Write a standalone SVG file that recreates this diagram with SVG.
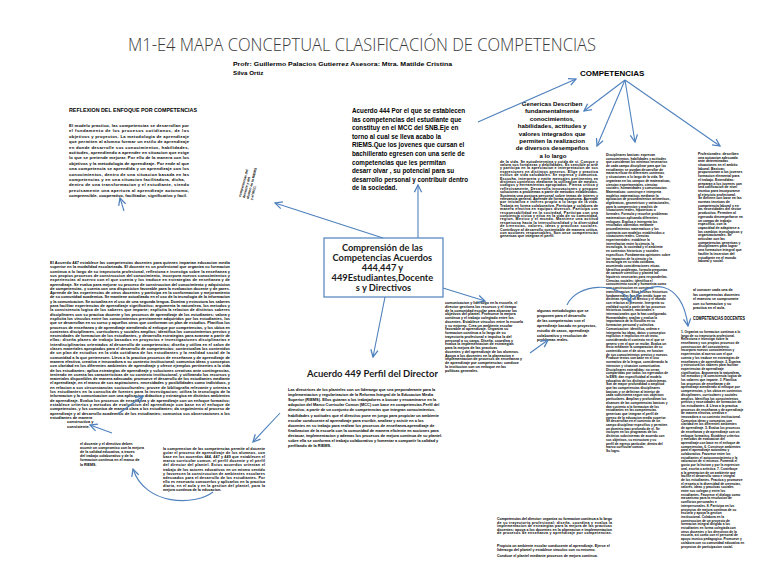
<svg xmlns="http://www.w3.org/2000/svg" width="768" height="576" viewBox="0 0 768 576">
<defs>
<style>
.b{font-family:"Liberation Sans",Arial,sans-serif;font-weight:bold;fill:#000}
.cal{font-family:Lato,"Liberation Sans",Arial,sans-serif;fill:#1a1a1a}
.conn{fill:none;stroke:#4f81bd;stroke-width:1.1;marker-end:url(#ah)}
</style>
<marker id="ah" viewBox="0 0 10 10" refX="9" refY="5" markerWidth="9" markerHeight="9" markerUnits="userSpaceOnUse" orient="auto"><path d="M1,1 L9,5 L1,9" fill="none" stroke="#4f81bd" stroke-width="1.4"/></marker>
</defs>
<rect width="768" height="576" fill="#fff"/>

<g id="title">
<text x="128" y="51" font-family="'Open Sans','Liberation Sans',sans-serif" font-weight="300" font-size="18" fill="#3a3a3a" textLength="468" lengthAdjust="spacingAndGlyphs">M1-E4 MAPA CONCEPTUAL CLASIFICACIÓN DE COMPETENCIAS</text>
<text class="b" font-size="6.2" x="233" y="66" textLength="219" lengthAdjust="spacingAndGlyphs">Profr: Guillermo Palacios Gutierrez Asesora: Mtra. Matilde Cristina</text>
<text class="b" font-size="6.2" x="233" y="75">Silva Ortiz</text>
</g>

<g id="competencias">
<text class="b" font-size="8" x="580" y="76">COMPETENCIAS</text>
</g>

<g id="acuerdo444">
<text class="b" font-size="6.3">
<tspan x="352" y="113">Acuerdo 444 Por el que se establecen</tspan>
<tspan x="352" y="121.6">las competencias del estudiante que</tspan>
<tspan x="352" y="130.2">constituy en el MCC del SNB.Eje en</tspan>
<tspan x="352" y="138.8">torno al cual se lleva acabo la</tspan>
<tspan x="352" y="147.4">RIEMS.Que los jovenes que cursan el</tspan>
<tspan x="352" y="156">bachillerato egresen con una serie de</tspan>
<tspan x="352" y="164.6">competencias que les permitan</tspan>
<tspan x="352" y="173.2">desarr olvar , su potencial para su</tspan>
<tspan x="352" y="181.8">desarrollo personal y  contribuir dentro</tspan>
<tspan x="352" y="190.4">de la sociedad.</tspan>
</text>
</g>

<g id="genericas">
<text class="b" font-size="6.1" text-anchor="middle">
<tspan x="553" y="106">Genericas Describen</tspan>
<tspan x="553" y="113.4">fundamentalmente</tspan>
<tspan x="553" y="120.8">conocimientos,</tspan>
<tspan x="553" y="128.2">habilidades, actitudes y</tspan>
<tspan x="553" y="135.6">valores integrados que</tspan>
<tspan x="553" y="143">permiten la realizacion</tspan>
<tspan x="553" y="150.4">de diversos desempeños</tspan>
<tspan x="553" y="157.6">a lo largo</tspan>
</text>
</g>

<g id="col-genericas">
<text class="b" font-size="3.6">
<tspan x="500" y="162.5" textLength="98">de la vida. Se autodetermina y cuida de si. Conoce y</tspan>
<tspan x="500" y="165.9" textLength="98">valora sus fortalezas y debilidades. Es sensible al arte</tspan>
<tspan x="500" y="169.3" textLength="98">y participa en la apreciacion e interpretacion de sus</tspan>
<tspan x="500" y="172.7" textLength="98">expresiones en distintos generos. Elige y practica</tspan>
<tspan x="500" y="176.1" textLength="98">estilos de vida saludables. Se expresa y comunica.</tspan>
<tspan x="500" y="179.5" textLength="98">Escucha, interpreta y emite mensajes pertinentes en</tspan>
<tspan x="500" y="182.9" textLength="98">distintos contextos mediante la utilizacion de medios,</tspan>
<tspan x="500" y="186.3" textLength="98">codigos y herramientas apropiados. Piensa critica y</tspan>
<tspan x="500" y="189.7" textLength="98">reflexivamente. Desarrolla innovaciones y propone</tspan>
<tspan x="500" y="193.1" textLength="98">soluciones a problemas a partir de metodos establecidos.</tspan>
<tspan x="500" y="196.5" textLength="98">Sustenta una postura personal sobre temas de interes y</tspan>
<tspan x="500" y="199.9" textLength="98">relevancia general. Aprende de forma autonoma. Aprende</tspan>
<tspan x="500" y="203.3" textLength="98">por iniciativa e interes propio a lo largo de la vida.</tspan>
<tspan x="500" y="206.7" textLength="98">Trabaja en forma colaborativa. Participa y colabora de</tspan>
<tspan x="500" y="210.1" textLength="98">manera efectiva en equipos diversos. Participa con</tspan>
<tspan x="500" y="213.5" textLength="98">responsabilidad en la sociedad. Participa con una</tspan>
<tspan x="500" y="216.9" textLength="98">conciencia civica y etica en la vida de su comunidad,</tspan>
<tspan x="500" y="220.3" textLength="98">region, Mexico y el mundo. Mantiene una actitud</tspan>
<tspan x="500" y="223.7" textLength="98">respetuosa hacia la interculturalidad y la diversidad</tspan>
<tspan x="500" y="227.1" textLength="98">de creencias, valores, ideas y practicas sociales.</tspan>
<tspan x="500" y="230.5" textLength="98">Contribuye al desarrollo sustentable de manera critica,</tspan>
<tspan x="500" y="233.9" textLength="98">con acciones responsables. Son once competencias</tspan>
<tspan x="500" y="237.3">genericas que integran el perfil.</tspan>
</text>
</g>

<g id="col-disciplinares" transform="translate(606 0) scale(0.9 1) translate(-606 0)">
<text class="b" font-size="3.6">
<tspan x="606" y="156">Disciplinares basicas: expresan</tspan>
<tspan x="606" y="159.7">conocimientos, habilidades y actitudes</tspan>
<tspan x="606" y="163.4">que consideran los minimos necesarios</tspan>
<tspan x="606" y="167.1">de cada campo disciplinar para que los</tspan>
<tspan x="606" y="170.8">estudiantes se puedan desarrollar de</tspan>
<tspan x="606" y="174.5">manera eficaz en diferentes contextos</tspan>
<tspan x="606" y="178.2">y situaciones a lo largo de la vida. Se</tspan>
<tspan x="606" y="181.9">organizan en los campos de matematicas,</tspan>
<tspan x="606" y="185.6">ciencias experimentales, ciencias</tspan>
<tspan x="606" y="189.3">sociales, humanidades y comunicacion.</tspan>
<tspan x="606" y="193">Matematicas: construye e interpreta</tspan>
<tspan x="606" y="196.7">modelos matematicos mediante la</tspan>
<tspan x="606" y="200.4">aplicacion de procedimientos aritmeticos,</tspan>
<tspan x="606" y="204.1">algebraicos, geometricos y variacionales,</tspan>
<tspan x="606" y="207.8">para la comprension y analisis de</tspan>
<tspan x="606" y="211.5">situaciones reales, hipoteticas o</tspan>
<tspan x="606" y="215.2">formales. Formula y resuelve problemas</tspan>
<tspan x="606" y="218.9">matematicos aplicando diferentes</tspan>
<tspan x="606" y="222.6">enfoques. Explica e interpreta los</tspan>
<tspan x="606" y="226.3">resultados obtenidos mediante</tspan>
<tspan x="606" y="230">procedimientos matematicos y los</tspan>
<tspan x="606" y="233.7">contrasta con modelos establecidos o</tspan>
<tspan x="606" y="237.4">situaciones reales. Ciencias</tspan>
<tspan x="606" y="241.1">experimentales: establece la</tspan>
<tspan x="606" y="244.8">interrelacion entre la ciencia, la</tspan>
<tspan x="606" y="248.5">tecnologia, la sociedad y el ambiente</tspan>
<tspan x="606" y="252.2">en contextos historicos y sociales</tspan>
<tspan x="606" y="255.9">especificos. Fundamenta opiniones sobre</tspan>
<tspan x="606" y="259.6">los impactos de la ciencia y la</tspan>
<tspan x="606" y="263.3">tecnologia en su vida cotidiana,</tspan>
<tspan x="606" y="267">asumiendo consideraciones eticas.</tspan>
<tspan x="606" y="270.7">Identifica problemas, formula preguntas</tspan>
<tspan x="606" y="274.4">de caracter cientifico y plantea las</tspan>
<tspan x="606" y="278.1">hipotesis necesarias para responderlas.</tspan>
<tspan x="606" y="281.8">Ciencias sociales: identifica el</tspan>
<tspan x="606" y="285.5">conocimiento social y humanista como</tspan>
<tspan x="606" y="289.2">una construccion en constante</tspan>
<tspan x="606" y="292.9">transformacion. Situa hechos historicos</tspan>
<tspan x="606" y="296.6">fundamentales que han tenido lugar en</tspan>
<tspan x="606" y="300.3">distintas epocas en Mexico y el mundo</tspan>
<tspan x="606" y="304">con relacion al presente. Interpreta su</tspan>
<tspan x="606" y="307.7">realidad social a partir de los procesos</tspan>
<tspan x="606" y="311.4">historicos locales, nacionales e</tspan>
<tspan x="606" y="315.1">internacionales que la han configurado.</tspan>
<tspan x="606" y="318.8">Humanidades: analiza y evalua la</tspan>
<tspan x="606" y="322.5">importancia de la filosofia en su</tspan>
<tspan x="606" y="326.2">formacion personal y colectiva.</tspan>
<tspan x="606" y="329.9">Comunicacion: identifica, ordena e</tspan>
<tspan x="606" y="333.6">interpreta las ideas, datos y conceptos</tspan>
<tspan x="606" y="337.3">explicitos e implicitos en un texto,</tspan>
<tspan x="606" y="341">considerando el contexto en el que se</tspan>
<tspan x="606" y="344.7">genero y en el que se recibe. Evalua un</tspan>
<tspan x="606" y="348.4">texto mediante la comparacion de su</tspan>
<tspan x="606" y="352.1">contenido con el de otros, en funcion</tspan>
<tspan x="606" y="355.8">de sus conocimientos previos y nuevos.</tspan>
<tspan x="606" y="359.5">Produce textos con base en el uso</tspan>
<tspan x="606" y="363.2">normativo de la lengua, considerando la</tspan>
<tspan x="606" y="366.9">intencion y situacion comunicativa.</tspan>
<tspan x="606" y="370.6">Disciplinares extendidas: no seran</tspan>
<tspan x="606" y="374.3">compartidas por todos los egresados de</tspan>
<tspan x="606" y="378">la EMS; dan especificidad al modelo</tspan>
<tspan x="606" y="381.7">educativo de los distintos subsistemas.</tspan>
<tspan x="606" y="385.4">Son de mayor profundidad o amplitud</tspan>
<tspan x="606" y="389.1">que las competencias disciplinares</tspan>
<tspan x="606" y="392.8">basicas y se definiran al interior de</tspan>
<tspan x="606" y="396.5">cada subsistema segun sus objetivos</tspan>
<tspan x="606" y="400.2">particulares. Amplian y profundizan los</tspan>
<tspan x="606" y="403.9">alcances de las competencias basicas y</tspan>
<tspan x="606" y="407.6">dan sustento a la formacion de los</tspan>
<tspan x="606" y="411.3">estudiantes en las competencias</tspan>
<tspan x="606" y="415">genericas que integran el perfil de</tspan>
<tspan x="606" y="418.7">egreso de la educacion media superior.</tspan>
<tspan x="606" y="422.4">Se desarrollan en el contexto de un</tspan>
<tspan x="606" y="426.1">campo disciplinar especifico y permiten</tspan>
<tspan x="606" y="429.8">un dominio mas profundo de el. Se</tspan>
<tspan x="606" y="433.5">incluyen en los programas de los</tspan>
<tspan x="606" y="437.2">distintos subsistemas de acuerdo con</tspan>
<tspan x="606" y="440.9">sus objetivos, su estructura y su</tspan>
<tspan x="606" y="444.6">perfil de egreso particular, dentro del</tspan>
<tspan x="606" y="448.3">marco curricular comun.</tspan>
<tspan x="606" y="452">Su logro.</tspan>
</text>
</g>

<g id="col-profesionales" transform="translate(698 0) scale(0.95 1) translate(-698 0)">
<text class="b" font-size="3.6">
<tspan x="698" y="155">Profesionales: describen</tspan>
<tspan x="698" y="158.7">una actuacion adecuada</tspan>
<tspan x="698" y="162.4">ante determinadas</tspan>
<tspan x="698" y="166.1">situaciones en el ambito</tspan>
<tspan x="698" y="169.8">laboral. Basicas:</tspan>
<tspan x="698" y="173.5">proporcionan a los jovenes</tspan>
<tspan x="698" y="177.2">formacion elemental para</tspan>
<tspan x="698" y="180.9">el trabajo. Extendidas:</tspan>
<tspan x="698" y="184.6">preparan a los jovenes con</tspan>
<tspan x="698" y="188.3">una calificacion de nivel</tspan>
<tspan x="698" y="192">tecnico para incorporarse</tspan>
<tspan x="698" y="195.7">al ejercicio profesional.</tspan>
<tspan x="698" y="199.4">Se definen con base en las</tspan>
<tspan x="698" y="203.1">normas tecnicas de</tspan>
<tspan x="698" y="206.8">competencia laboral y en</tspan>
<tspan x="698" y="210.5">las necesidades del sector</tspan>
<tspan x="698" y="214.2">productivo. Permiten al</tspan>
<tspan x="698" y="217.9">egresado desempeñarse en</tspan>
<tspan x="698" y="221.6">un campo de trabajo</tspan>
<tspan x="698" y="225.3">especifico, con la</tspan>
<tspan x="698" y="229">capacidad de adaptarse a</tspan>
<tspan x="698" y="232.7">los cambios tecnologicos y</tspan>
<tspan x="698" y="236.4">organizacionales. Se</tspan>
<tspan x="698" y="240.1">articulan con las</tspan>
<tspan x="698" y="243.8">competencias genericas y</tspan>
<tspan x="698" y="247.5">disciplinares para lograr</tspan>
<tspan x="698" y="251.2">una formacion integral que</tspan>
<tspan x="698" y="254.9">facilite la insercion del</tspan>
<tspan x="698" y="258.6">estudiante en el mundo</tspan>
<tspan x="698" y="262.3">laboral y social.</tspan>
</text>
</g>

<g id="nota-docentes">
<text class="b" font-size="3.6">
<tspan x="693" y="291">al conocer cada una de</tspan>
<tspan x="693" y="295.5">las competencias docentes</tspan>
<tspan x="693" y="300">el maestro se compromete</tspan>
<tspan x="693" y="304.5">con su formacion y su</tspan>
<tspan x="693" y="309">practica en el aula.</tspan>
</text>
</g>

<g id="competencias-docentes">
<text class="b" font-size="4.6" x="693" y="320" textLength="52" lengthAdjust="spacingAndGlyphs">COMPETENCIAS DOCENTES</text>
<g transform="translate(681 0) scale(0.9 1) translate(-681 0)">
<text class="b" font-size="3.6">
<tspan x="681" y="333">1. Organiza su formacion continua a lo</tspan>
<tspan x="681" y="336.7">largo de su trayectoria profesional.</tspan>
<tspan x="681" y="340.4">Reflexiona e investiga sobre la</tspan>
<tspan x="681" y="344.1">enseñanza y sus propios procesos de</tspan>
<tspan x="681" y="347.8">construccion del conocimiento.</tspan>
<tspan x="681" y="351.5">Incorpora nuevos conocimientos y</tspan>
<tspan x="681" y="355.2">experiencias al acervo con el que</tspan>
<tspan x="681" y="358.9">cuenta y los traduce en estrategias de</tspan>
<tspan x="681" y="362.6">enseñanza y de aprendizaje. 2. Domina</tspan>
<tspan x="681" y="366.3">y estructura los saberes para facilitar</tspan>
<tspan x="681" y="370">experiencias de aprendizaje</tspan>
<tspan x="681" y="373.7">significativo. Argumenta la naturaleza,</tspan>
<tspan x="681" y="377.4">los metodos y la consistencia logica de</tspan>
<tspan x="681" y="381.1">los saberes que imparte. 3. Planifica</tspan>
<tspan x="681" y="384.8">los procesos de enseñanza y de</tspan>
<tspan x="681" y="388.5">aprendizaje atendiendo al enfoque por</tspan>
<tspan x="681" y="392.2">competencias, y los ubica en contextos</tspan>
<tspan x="681" y="395.9">disciplinares, curriculares y sociales</tspan>
<tspan x="681" y="399.6">amplios. Identifica los conocimientos</tspan>
<tspan x="681" y="403.3">previos y necesidades de formacion de</tspan>
<tspan x="681" y="407">los estudiantes. 4. Lleva a la practica</tspan>
<tspan x="681" y="410.7">procesos de enseñanza y de aprendizaje</tspan>
<tspan x="681" y="414.4">de manera efectiva, creativa e</tspan>
<tspan x="681" y="418.1">innovadora a su contexto institucional.</tspan>
<tspan x="681" y="421.8">Comunica ideas y conceptos con</tspan>
<tspan x="681" y="425.5">claridad en los diferentes ambientes</tspan>
<tspan x="681" y="429.2">de aprendizaje. 5. Evalua los procesos</tspan>
<tspan x="681" y="432.9">de enseñanza y de aprendizaje con un</tspan>
<tspan x="681" y="436.6">enfoque formativo. Establece criterios</tspan>
<tspan x="681" y="440.3">y metodos de evaluacion del</tspan>
<tspan x="681" y="444">aprendizaje con base en el enfoque de</tspan>
<tspan x="681" y="447.7">competencias. 6. Construye ambientes</tspan>
<tspan x="681" y="451.4">para el aprendizaje autonomo y</tspan>
<tspan x="681" y="455.1">colaborativo. Favorece entre los</tspan>
<tspan x="681" y="458.8">estudiantes el autoconocimiento y la</tspan>
<tspan x="681" y="462.5">valoracion de si mismos. Fomenta el</tspan>
<tspan x="681" y="466.2">gusto por la lectura y por la expresion</tspan>
<tspan x="681" y="469.9">oral, escrita o artistica. 7. Contribuye</tspan>
<tspan x="681" y="473.6">a la generacion de un ambiente que</tspan>
<tspan x="681" y="477.3">facilite el desarrollo sano e integral</tspan>
<tspan x="681" y="481">de los estudiantes. Practica y promueve</tspan>
<tspan x="681" y="484.7">el respeto a la diversidad de creencias,</tspan>
<tspan x="681" y="488.4">valores, ideas y practicas sociales</tspan>
<tspan x="681" y="492.1">entre sus colegas y entre los</tspan>
<tspan x="681" y="495.8">estudiantes. Favorece el dialogo como</tspan>
<tspan x="681" y="499.5">mecanismo para la resolucion de</tspan>
<tspan x="681" y="503.2">conflictos personales e</tspan>
<tspan x="681" y="506.9">interpersonales. 8. Participa en los</tspan>
<tspan x="681" y="510.6">proyectos de mejora continua de su</tspan>
<tspan x="681" y="514.3">escuela y apoya la gestion</tspan>
<tspan x="681" y="518">institucional. Colabora en la</tspan>
<tspan x="681" y="521.7">construccion de un proyecto de</tspan>
<tspan x="681" y="525.4">formacion integral dirigido a los</tspan>
<tspan x="681" y="529.1">estudiantes en forma colegiada con</tspan>
<tspan x="681" y="532.8">otros docentes y los directivos de la</tspan>
<tspan x="681" y="536.5">escuela, asi como con el personal de</tspan>
<tspan x="681" y="540.2">apoyo tecnico pedagogico. Promueve y</tspan>
<tspan x="681" y="543.9">colabora con su comunidad educativa en</tspan>
<tspan x="681" y="547.6">proyectos de participacion social.</tspan>
</text>
</g>
</g>

<g id="reflexion">
<text class="b" font-size="4.8" x="69" y="112" textLength="128" lengthAdjust="spacingAndGlyphs">REFLEXION DEL ENFOQUE POR COMPETENCIAS</text>
<text class="b" font-size="4.2">
<tspan x="69" y="127" textLength="120">El modelo practico, las competencias se desarrollan por</tspan>
<tspan x="69" y="132.4" textLength="120">el fundamento de los procesos cotidianos, de los</tspan>
<tspan x="69" y="137.8" textLength="120">objetivos y proyectos. La metodologia de aprendizaje</tspan>
<tspan x="69" y="143.2" textLength="120">que permiten al alumno formar un estilo de aprendizaje</tspan>
<tspan x="69" y="148.6" textLength="120">en donde desarrolle sus conocimientos, habilidades,</tspan>
<tspan x="69" y="154" textLength="120">actitudes, aprendiendo a aprender en situacion que exige</tspan>
<tspan x="69" y="159.4" textLength="120">lo que se pretende mejorar. Por ello de la manera con los</tspan>
<tspan x="69" y="164.8" textLength="120">objetivos y la metodologia de aprendizaje. Por ende al que</tspan>
<tspan x="69" y="170.2" textLength="120">una competencia se aprendida y un aprendizaje con los</tspan>
<tspan x="69" y="175.6" textLength="120">conocimientos, dentro de una situacion basada en las</tspan>
<tspan x="69" y="181" textLength="116">competencias y en una situacion facilitadora, dicha,</tspan>
<tspan x="69" y="186.4" textLength="120">dentro de una transformacion y el estudiante, siendo</tspan>
<tspan x="69" y="191.8" textLength="120">precisamente una apertura al aprendizaje autonomo,</tspan>
<tspan x="69" y="197.2" textLength="118">comprensible, cooperativo, facilitador, significativo y facil.</tspan>
</text>
</g>

<g id="nota-inclinada">
<text class="b" font-size="3.4" transform="rotate(-75 249 186)">
<tspan x="236" y="181">competencias del</tspan>
<tspan x="236" y="185">docente y del</tspan>
<tspan x="236" y="189">alumno en la RIEMS</tspan>
<tspan x="236" y="193">y el MCC.</tspan>
</text>
</g>

<g id="acuerdo447">
<text class="b" font-size="3.9">
<tspan x="50" y="264" textLength="180">El Acuerdo 447 establece las competencias docentes para quienes impartan educacion media</tspan>
<tspan x="50" y="268.3" textLength="180">superior en la modalidad escolarizada. El docente es un profesional que organiza su formacion</tspan>
<tspan x="50" y="272.6" textLength="180">continua a lo largo de su trayectoria profesional, reflexiona e investiga sobre la enseñanza y</tspan>
<tspan x="50" y="276.9" textLength="180">sus propios procesos de construccion del conocimiento, incorpora nuevos conocimientos y</tspan>
<tspan x="50" y="281.2" textLength="180">experiencias al acervo con el que cuenta y los traduce en estrategias de enseñanza y de</tspan>
<tspan x="50" y="285.5" textLength="180">aprendizaje. Se evalua para mejorar su proceso de construccion del conocimiento y adquisicion</tspan>
<tspan x="50" y="289.8" textLength="180">de competencias, y cuenta con una disposicion favorable para la evaluacion docente y de pares.</tspan>
<tspan x="50" y="294.1" textLength="180">Aprende de las experiencias de otros docentes y participa en la conformacion y mejoramiento</tspan>
<tspan x="50" y="298.4" textLength="180">de su comunidad academica. Se mantiene actualizado en el uso de la tecnologia de la informacion</tspan>
<tspan x="50" y="302.7" textLength="180">y la comunicacion. Se actualiza en el uso de una segunda lengua. Domina y estructura los saberes</tspan>
<tspan x="50" y="307" textLength="180">para facilitar experiencias de aprendizaje significativo; argumenta la naturaleza, los metodos y</tspan>
<tspan x="50" y="311.3" textLength="180">la consistencia logica de los saberes que imparte; explicita la relacion de distintos saberes</tspan>
<tspan x="50" y="315.6" textLength="180">disciplinares con su practica docente y los procesos de aprendizaje de los estudiantes; valora y</tspan>
<tspan x="50" y="319.9" textLength="180">explicita los vinculos entre los conocimientos previamente adquiridos por los estudiantes, los</tspan>
<tspan x="50" y="324.2" textLength="180">que se desarrollan en su curso y aquellos otros que conforman un plan de estudios. Planifica los</tspan>
<tspan x="50" y="328.5" textLength="180">procesos de enseñanza y de aprendizaje atendiendo al enfoque por competencias, y los ubica en</tspan>
<tspan x="50" y="332.8" textLength="180">contextos disciplinares, curriculares y sociales amplios; identifica los conocimientos previos y</tspan>
<tspan x="50" y="337.1" textLength="180">necesidades de formacion de los estudiantes, y desarrolla estrategias para avanzar a partir de</tspan>
<tspan x="50" y="341.4" textLength="180">ellas; diseña planes de trabajo basados en proyectos e investigaciones disciplinarias e</tspan>
<tspan x="50" y="345.7" textLength="180">interdisciplinarias orientados al desarrollo de competencias; diseña y utiliza en el salon de</tspan>
<tspan x="50" y="350" textLength="180">clases materiales apropiados para el desarrollo de competencias; contextualiza los contenidos</tspan>
<tspan x="50" y="354.3" textLength="180">de un plan de estudios en la vida cotidiana de los estudiantes y la realidad social de la</tspan>
<tspan x="50" y="358.6" textLength="180">comunidad a la que pertenecen. Lleva a la practica procesos de enseñanza y de aprendizaje de</tspan>
<tspan x="50" y="362.9" textLength="180">manera efectiva, creativa e innovadora a su contexto institucional; comunica ideas y conceptos</tspan>
<tspan x="50" y="367.2" textLength="180">con claridad en los diferentes ambientes de aprendizaje y ofrece ejemplos pertinentes a la vida</tspan>
<tspan x="50" y="371.5" textLength="180">de los estudiantes; aplica estrategias de aprendizaje y soluciones creativas ante contingencias,</tspan>
<tspan x="50" y="375.8" textLength="180">teniendo en cuenta las caracteristicas de su contexto institucional, y utilizando los recursos y</tspan>
<tspan x="50" y="380.1" textLength="180">materiales disponibles de manera adecuada; promueve el desarrollo de los estudiantes mediante</tspan>
<tspan x="50" y="384.4" textLength="180">el aprendizaje, en el marco de sus aspiraciones, necesidades y posibilidades como individuos, y</tspan>
<tspan x="50" y="388.7" textLength="180">en relacion a sus circunstancias socioculturales; provee de bibliografia relevante y orienta a</tspan>
<tspan x="50" y="393" textLength="180">los estudiantes en la consulta de fuentes para la investigacion; utiliza la tecnologia de la</tspan>
<tspan x="50" y="397.3" textLength="180">informacion y la comunicacion con una aplicacion didactica y estrategica en distintos ambientes</tspan>
<tspan x="50" y="401.6" textLength="180">de aprendizaje. Evalua los procesos de enseñanza y de aprendizaje con un enfoque formativo;</tspan>
<tspan x="50" y="405.9" textLength="180">establece criterios y metodos de evaluacion del aprendizaje con base en el enfoque de</tspan>
<tspan x="50" y="410.2" textLength="180">competencias, y los comunica de manera clara a los estudiantes; da seguimiento al proceso de</tspan>
<tspan x="50" y="414.5" textLength="180">aprendizaje y al desarrollo academico de los estudiantes; comunica sus observaciones a los</tspan>
<tspan x="50" y="418.8">estudiantes de manera</tspan>
<tspan x="67" y="423.3">constructiva y</tspan>
<tspan x="67" y="427.8">consistente.</tspan>
</text>
</g>

<g id="comprension">
<rect x="324" y="238" width="119" height="59" fill="#fff" stroke="#4f81bd" stroke-width="1.2"/>
<text class="cal" font-size="9.3" font-weight="bold" text-anchor="middle">
<tspan x="383.5" y="251">Comprensión de las</tspan>
<tspan x="383.5" y="261">Competencias Acuerdos</tspan>
<tspan x="383.5" y="271">444,447 y</tspan>
<tspan x="383.5" y="281">449Estudiantes,Docente</tspan>
<tspan x="383.5" y="291">s y Directivos</tspan>
</text>
</g>

<g id="acuerdo449">
<text class="cal" font-size="9" font-weight="bold" x="307" y="377" textLength="131" lengthAdjust="spacingAndGlyphs">Acuerdo 449 Perfil del Director</text>
<text class="b" font-size="3.9">
<tspan x="288" y="391">Las directrices de los planteles con un liderazgo que sea preponderante para la</tspan>
<tspan x="288" y="396.1">implementacion y regularizacion de la Reforma Integral de la Educacion Media</tspan>
<tspan x="288" y="401.2">Superior (RIEMS). Ellos guiaran a los trabajadores a buscar y encaminarse en la</tspan>
<tspan x="288" y="406.3">adopcion del Marco Curricular Comun (MCC) con base en competencias.Perfil del</tspan>
<tspan x="288" y="411.4">directivo, a partir de un conjunto de competencias que integran conocimientos,</tspan>
<tspan x="288" y="416.5">habilidades y actitudes que el directivo pone en juego para propiciar un ambiente</tspan>
<tspan x="288" y="421.6">escolar conducente al aprendizaje para escribir, analizar y asistir en a los</tspan>
<tspan x="288" y="426.7">docentes en su trabajo para realizar los procesos de enseñanza-aprendizaje de</tspan>
<tspan x="288" y="431.8">finalizacion de la escuela con la comunidad de manera eficiente en acciones para</tspan>
<tspan x="288" y="436.9">destacar, implementacion y ademas los procesos de mejora continua de su plantel.</tspan>
<tspan x="288" y="442">sobre ella se conforma el trabajo colaborativo y fomentar a compartir la calidad y</tspan>
<tspan x="288" y="447.1">perfilando de la RIEMS.</tspan>
</text>
</g>

<g id="liderazgo">
<text class="b" font-size="3.6">
<tspan x="445" y="304">comunicacion y liderazgo en la escuela, el</tspan>
<tspan x="445" y="307.75">director gestiona los recursos y el tiempo</tspan>
<tspan x="445" y="311.5">de la comunidad escolar para alcanzar los</tspan>
<tspan x="445" y="315.25">objetivos del plantel. Promueve la mejora</tspan>
<tspan x="445" y="319">continua y el trabajo colegiado entre los</tspan>
<tspan x="445" y="322.75">docentes. Establece vinculos entre la escuela</tspan>
<tspan x="445" y="326.5">y su entorno. Crea un ambiente escolar</tspan>
<tspan x="445" y="330.25">favorable al aprendizaje. Organiza su</tspan>
<tspan x="445" y="334">formacion continua a lo largo de su</tspan>
<tspan x="445" y="337.75">trayectoria profesional e impulsa la del</tspan>
<tspan x="445" y="341.5">personal a su cargo. Diseña, coordina y</tspan>
<tspan x="445" y="345.25">evalua la implementacion de estrategias</tspan>
<tspan x="445" y="349">para la mejora de las practicas</tspan>
<tspan x="445" y="352.75">docentes y del aprendizaje de los alumnos.</tspan>
<tspan x="445" y="356.5">Apoya a los docentes en la planeacion e</tspan>
<tspan x="445" y="360.25">implementacion de procesos de enseñanza y</tspan>
<tspan x="445" y="364">de aprendizaje por competencias; conduce</tspan>
<tspan x="445" y="367.75">la institucion con un enfoque en las</tspan>
<tspan x="445" y="371.5">politicas generales.</tspan>
</text>
</g>

<g id="metodologias">
<text class="b" font-size="3.7">
<tspan x="537" y="312">algunas metodologias que se</tspan>
<tspan x="537" y="316.9">proponen para el desarrollo</tspan>
<tspan x="537" y="321.8">de las competencias son el</tspan>
<tspan x="537" y="326.7">aprendizaje basado en proyectos,</tspan>
<tspan x="537" y="331.6">estudio de casos, aprendizaje</tspan>
<tspan x="537" y="336.5">colaborativo y resolucion de</tspan>
<tspan x="537" y="341.4">problemas reales.</tspan>
</text>
</g>

<g id="comprension-docente">
<text class="b" font-size="3.7">
<tspan x="163" y="450" textLength="102">la comprension de las competencias permite al docente</tspan>
<tspan x="163" y="454.1" textLength="102">guiar el proceso de aprendizaje de los alumnos, con</tspan>
<tspan x="163" y="458.2" textLength="102">base en los acuerdos 444, 447 y 449 que establecen el</tspan>
<tspan x="163" y="462.3" textLength="102">marco curricular comun, el perfil docente y el perfil</tspan>
<tspan x="163" y="466.4" textLength="102">del director del plantel. Estos acuerdos orientan el</tspan>
<tspan x="163" y="470.5" textLength="102">trabajo de los actores educativos en un mismo sentido</tspan>
<tspan x="163" y="474.6" textLength="102">y favorecen la construccion de ambientes escolares</tspan>
<tspan x="163" y="478.7" textLength="102">adecuados para el desarrollo de los estudiantes. Por</tspan>
<tspan x="163" y="482.8" textLength="102">ello es necesario conocerlos y aplicarlos en la practica</tspan>
<tspan x="163" y="486.9" textLength="102">diaria, en el aula y en la gestion del plantel, para la</tspan>
<tspan x="163" y="491">mejora continua de la educacion.</tspan>
</text>
</g>

<g id="compromiso">
<text class="b" font-size="3.6">
<tspan x="80" y="445">el docente y el directivo deben</tspan>
<tspan x="80" y="449.1">asumir un compromiso con la mejora</tspan>
<tspan x="80" y="453.2">de la calidad educativa, a traves</tspan>
<tspan x="80" y="457.3">del trabajo colaborativo y de la</tspan>
<tspan x="80" y="461.4">formacion continua en el marco de</tspan>
<tspan x="80" y="465.5">la RIEMS.</tspan>
</text>
</g>

<g id="director">
<text class="b" font-size="3.6">
<tspan x="497" y="520" textLength="115">Competencias del director: organiza su formacion continua a lo largo</tspan>
<tspan x="497" y="523.5" textLength="115">de su trayectoria profesional; diseña, coordina y evalua la</tspan>
<tspan x="497" y="527" textLength="115">implementacion de estrategias para la mejora de las practicas</tspan>
<tspan x="497" y="530.5" textLength="115">docentes; apoya a los docentes en la planeacion e implementacion</tspan>
<tspan x="497" y="534" textLength="115">de procesos de enseñanza y aprendizaje por competencias.</tspan>
<tspan x="497" y="547">Propicia un ambiente escolar conducente al aprendizaje. Ejerce el</tspan>
<tspan x="497" y="550.5">liderazgo del plantel y establece vinculos con su entorno.</tspan>
<tspan x="497" y="557">Conduce el plantel mediante procesos de mejora continua.</tspan>
</text>
</g>

<g id="connectors">
<path class="conn" d="M478,122 L576,79"/>
<path class="conn" d="M625,80 L584,111"/>
<path class="conn" d="M625,80 L597,146"/>
<path class="conn" d="M625,80 L635,142"/>
<path class="conn" d="M625,80 L720,146"/>
<path class="conn" d="M418,238 L418,185"/>
<path class="conn" d="M383,238 L275,203"/>
<path class="conn" d="M443,288 L485,301"/>
<path class="conn" d="M385,297 L373,357"/>
<path class="conn" d="M280,413 L253,442"/>
<path class="conn" d="M530,353 L548,340"/>
<path class="conn" d="M567,305 C577,283 618,281 631,302"/>
<path class="conn" d="M633,300 C648,280 682,278 688,326"/>
<path class="conn" d="M213,492 C195,506 145,506 133,469"/>
<path class="conn" d="M112,433 L90,425"/>
<path class="conn" d="M118,414 L143,396"/>
<path class="conn" d="M124,211 L120,198"/>
</g>
</svg>
